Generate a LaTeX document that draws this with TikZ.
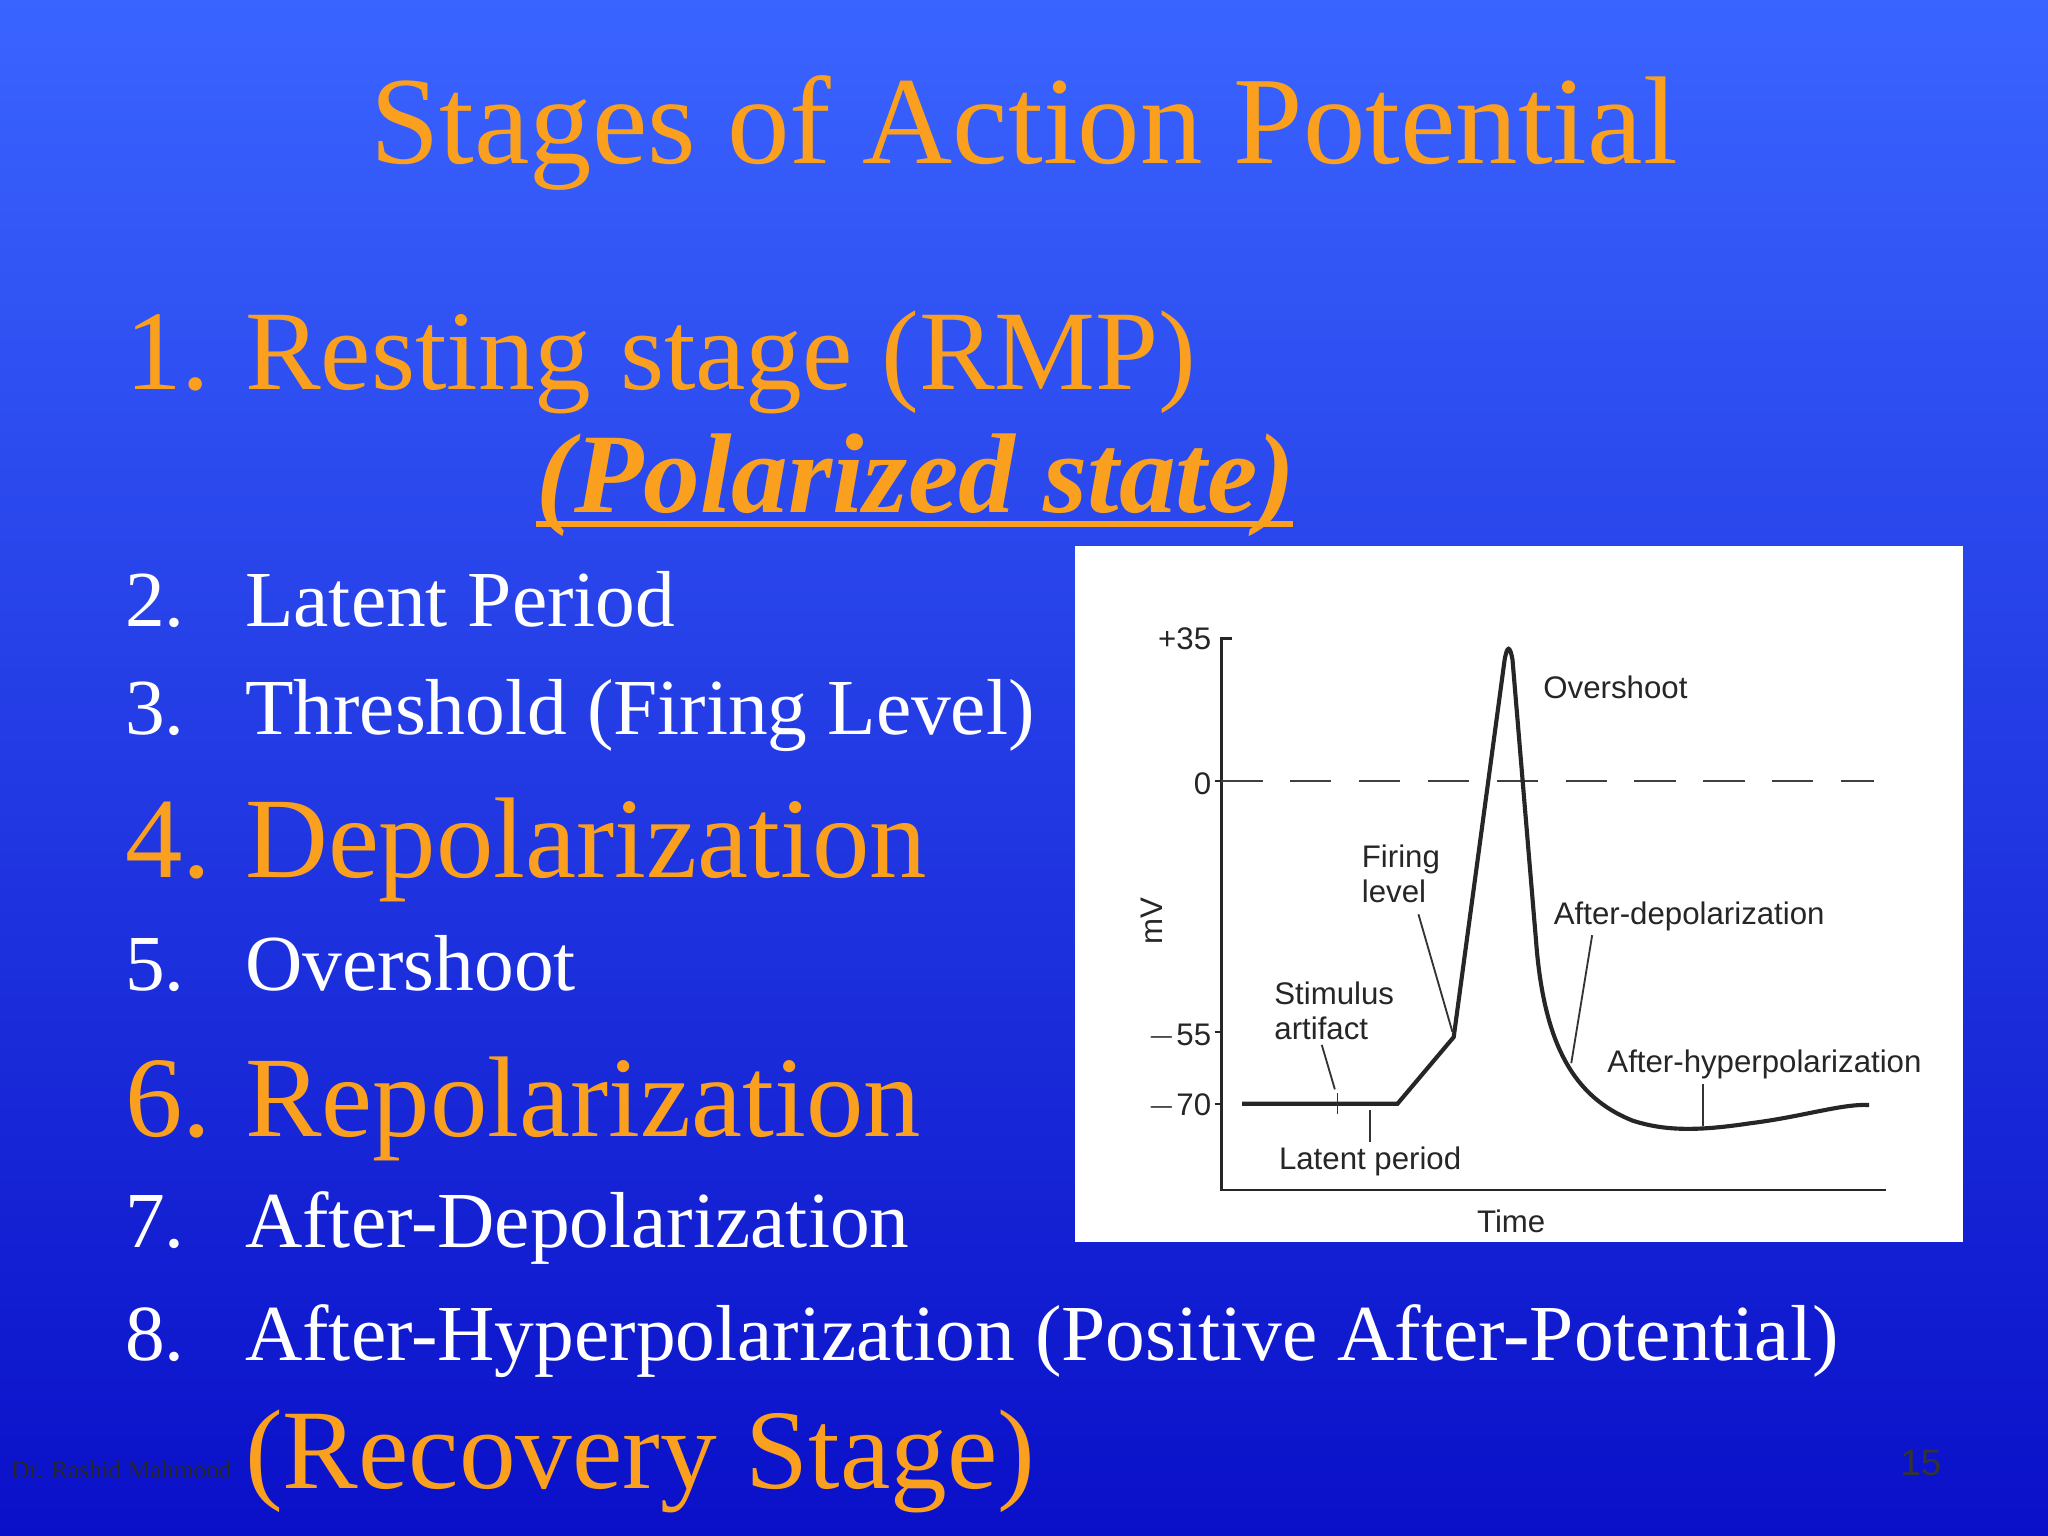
\documentclass[tikz,border=0pt]{standalone}
\usepackage{fontspec}
\setmainfont{Liberation Serif}
\newfontfamily\arialf{Liberation Sans}
\begin{document}
\begin{tikzpicture}[x=0.1mm,y=-0.1mm,
  orn/.style={text=orange1,inner sep=0,anchor=base west},
  wht/.style={text=white,inner sep=0,anchor=base west},
  glab/.style={text=black!85,inner sep=0,font=\arialf\fontsize{6.8}{7.6}\selectfont,align=left},
  curve/.style={line width=0.9pt,black!85},
  lead/.style={line width=0.4pt,black!80}]
\definecolor{orange1}{RGB}{250,160,30}
\definecolor{bgtop}{RGB}{58,100,255}
\definecolor{bgbot}{RGB}{10,16,200}
\shade[top color=bgtop,bottom color=bgbot] (0,0) rectangle (1568,1176);
\useasboundingbox (0,0) rectangle (1568,1176);
% title
\node[text=orange1,inner sep=0,anchor=base,font=\fontsize{27.2}{32}\selectfont] (title) at (784,125) {Stages of Action Potential};
% list
\node[orn,font=\fontsize{24.7}{30}\selectfont] (n1) at (95,298) {1.};
\node[orn,font=\fontsize{24.7}{30}\selectfont] (t1) at (187,298) {Resting stage (RMP)};
\node[orn,font=\fontsize{24.7}{30}\selectfont\bfseries\itshape] (t1b) at (410,392) {(Polarized state)};
\draw[orange1,line width=1.2pt] (410,401) -- (990,401);
\node[wht,font=\fontsize{17.3}{22}\selectfont] (n2) at (95,480) {2.};
\node[wht,font=\fontsize{17.3}{22}\selectfont] (t2) at (187,480) {Latent Period};
\node[wht,font=\fontsize{17.3}{22}\selectfont] (n3) at (95,562) {3.};
\node[wht,font=\fontsize{17.3}{22}\selectfont] (t3) at (187,562) {Threshold (Firing Level)};
\node[orn,font=\fontsize{25}{30}\selectfont] (n4) at (95,672) {4.};
\node[orn,font=\fontsize{25}{30}\selectfont] (t4) at (187,672) {Depolarization};
\node[wht,font=\fontsize{17.3}{22}\selectfont] (n5) at (95,758) {5.};
\node[wht,font=\fontsize{17.3}{22}\selectfont] (t5) at (187,758) {Overshoot};
\node[orn,font=\fontsize{25}{30}\selectfont] (n6) at (95,870) {6.};
\node[orn,font=\fontsize{25}{30}\selectfont] (t6) at (187,870) {Repolarization};
\node[wht,font=\fontsize{17.3}{22}\selectfont] (n7) at (95,955) {7.};
\node[wht,font=\fontsize{17.3}{22}\selectfont] (t7) at (187,955) {After-Depolarization};
\node[wht,font=\fontsize{17.3}{22}\selectfont] (n8) at (95,1042) {8.};
\node[wht,font=\fontsize{17.3}{22}\selectfont] (t8) at (187,1042) {After-Hyperpolarization (Positive After-Potential)};
\node[orn,font=\fontsize{24.7}{30}\selectfont] (t9) at (187,1140) {(Recovery Stage)};
\node[inner sep=0,anchor=base west,text=black!85,font=\fontsize{5.5}{6}\selectfont] (dr) at (8,1132) {Dr. Rashid Mahmood};
\node[inner sep=0,anchor=base east,text=black!80,font=\arialf\fontsize{8}{9}\selectfont] (pg) at (1487,1130) {15};
% graph
\fill[white] (823,418) rectangle (1503,951);
\draw[line width=0.6pt,black!85] (943,489) -- (935,489) -- (935,911) -- (1444,911);
\draw[line width=0.5pt,black!85] (930,598)--(935,598) (930,790)--(935,790) (930,845)--(935,845);
\draw[dashed,dash pattern=on 9pt off 6pt,line width=0.5pt,black!75] (935,598) -- (1435,598);
\node[glab,anchor=east] (l35) at (928,489) {+35};
\node[glab,anchor=east] (l0) at (928,600) {0};
\node[glab,anchor=east] (l55) at (928,794) {$-$55};
\node[glab,anchor=east] (l70) at (928,847) {$-$70};
\node[glab,rotate=90] (mv) at (882,705) {mV};
\node[glab] (time) at (1157,935) {Time};
\draw[curve] (951,845) -- (1070,845) -- (1113,794) -- (1152,505) .. controls (1154,494) and (1156,494) .. (1158,505)
  -- (1176,720) .. controls (1182,800) and (1205,840) .. (1250,858)
  .. controls (1275,866) and (1300,866) .. (1340,860) .. controls (1380,855) and (1410,845) .. (1431,846);
\draw[lead] (1024,837) -- (1024,853);
% labels
\node[glab,anchor=west] (ov) at (1181,526) {Overshoot};
\node[glab,anchor=north west] (fl) at (1042,646) {Firing\\level};
\node[glab,anchor=north west] (st) at (975,751) {Stimulus\\artifact};
\node[glab] (lp) at (1049,889) {Latent period};
\node[glab,anchor=west] (ad) at (1189,702) {After-depolarization};
\node[glab,anchor=west] (ah) at (1230,815) {After-hyperpolarization};
\coordinate (fle) at (1112,790);
\coordinate (ste) at (1022,834);
\coordinate (lpe) at (1049,850);
\coordinate (ade) at (1203,814);
\coordinate (ahe) at (1304,862);
\draw[lead] (1086,700) -- (fle);
\draw[lead] (1012,800) -- (ste);
\draw[lead] (lp.north) ++(0,-3) -- (lpe);
\draw[lead] (1219,716) -- (ade);
\draw[lead] (1304,830) -- (ahe);
\end{tikzpicture}
\end{document}
